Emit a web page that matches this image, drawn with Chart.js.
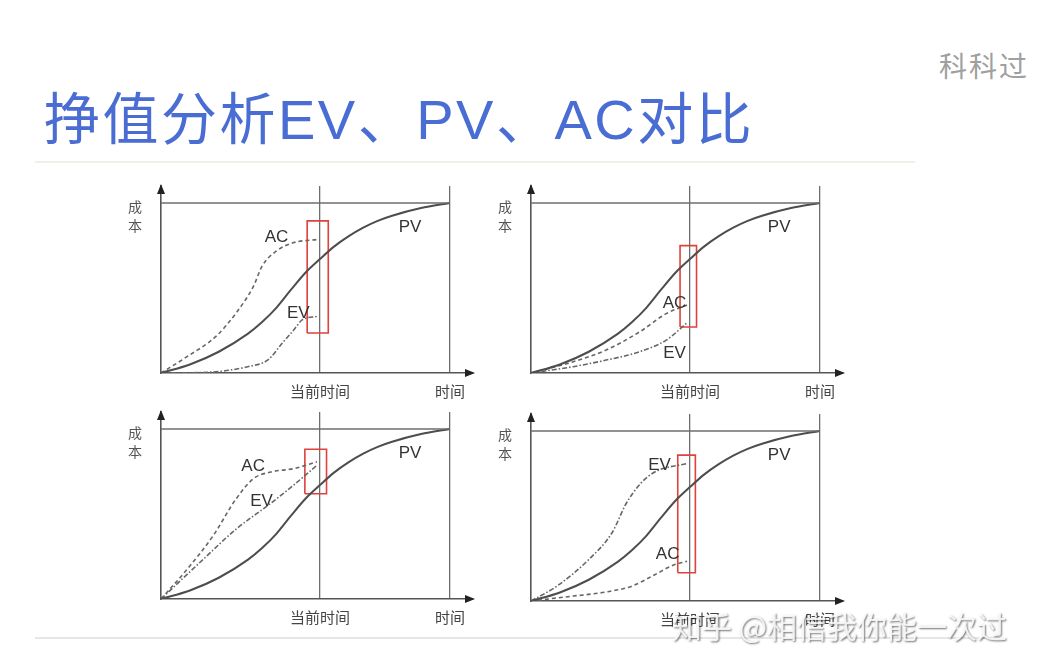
<!DOCTYPE html>
<html lang="zh">
<head>
<meta charset="UTF-8">
<title>挣值分析EV、PV、AC对比</title>
<style>
  body { margin: 0; background: #fff; }
  #page { position: relative; width: 1059px; height: 672px; overflow: hidden; background: #fff;
    font-family: "Liberation Sans", "Noto Sans CJK SC", sans-serif; }
  #title { position: absolute; left: 44px; top: 74px; font-size: 56px; letter-spacing: 2.5px;
    color: #4a6dd4; white-space: nowrap; }
  #brand { position: absolute; left: 939px; top: 45px; font-size: 28px; letter-spacing: 2px; color: #a0a0a0;
    font-family: "Noto Sans CJK SC", sans-serif; }
  .rule { position: absolute; height: 2px; }
  canvas { position: absolute; }
  #mark { position: absolute; left: 672px; top: 603px; font-size: 30px; white-space: nowrap;
    color: rgba(255,255,255,0.85); text-shadow: 1px 1px 2px rgba(0,0,0,0.55);
    font-family: "Noto Sans CJK SC", sans-serif; }
</style>
</head>
<body>
<div id="page">
  <div id="brand">科科过</div>
  <div id="title">挣值分析EV、PV、AC对比</div>
  <div class="rule" style="left:35px;top:161px;width:880px;background:#f1efe8"></div>
  <div class="rule" style="left:35px;top:637px;width:965px;background:#e6e6e6"></div>
  <canvas id="c1" width="380" height="230" style="left:100px;top:180px"></canvas>
  <canvas id="c2" width="380" height="230" style="left:470px;top:180px"></canvas>
  <canvas id="c3" width="380" height="230" style="left:100px;top:406px"></canvas>
  <canvas id="c4" width="380" height="230" style="left:470px;top:408px"></canvas>
  <div id="mark">知乎 @相信我你能一次过</div>
</div>
<script src="https://cdn.jsdelivr.net/npm/chart.js@4.4.1/dist/chart.umd.min.js"></script>
<script>
  // 时间轴：0 = 开始，55 = 当前时间，100 = 完工
  const tickTime = [55, 100]
  const tickTimeLabels = ['当前时间', '时间']
  const tickCost = [92]
  const tickCostLabels = [['成', '本']]

  // PV 计划值（四张图相同）
  const pvX = [0, 10, 20, 30, 35, 40, 45, 50, 55, 60, 65, 70, 75, 80, 90, 100]
  const pvY = [0, 5, 12.5, 23, 30, 38.5, 49, 59, 67, 74.5, 80.5, 85.5, 89.5, 92.5, 97, 100]

  // 图1：AC 高、EV 低
  const ac1X = [0, 9, 19, 26, 32, 35, 40, 46, 54]
  const ac1Y = [0, 9.6, 21.5, 35.3, 51, 62.9, 71.8, 76.7, 78.5]
  const ev1X = [0, 17, 30, 37, 42, 46, 49, 54]
  const ev1Y = [0, 0.5, 3.7, 7.7, 17.6, 25.4, 31.4, 33.3]

  // 图2：AC、EV 都低于 PV
  const ac2X = [0, 14.6, 26, 37.6, 46.8, 54]
  const ac2Y = [0, 6.6, 13.5, 24.2, 34.9, 40]
  const ev2X = [0, 14.6, 26, 37.6, 46.8, 54]
  const ev2Y = [0, 3.7, 7.6, 12.5, 19.3, 29.5]

  // 图3：AC、EV 都高于 PV
  const ac3X = [0, 9, 18, 26, 32, 38, 46, 54]
  const ac3Y = [0, 17.4, 37.1, 58.9, 70.8, 74.7, 76.7, 80.7]
  const ev3X = [0, 14.6, 26, 37.7, 45.8, 54]
  const ev3Y = [0, 23.3, 41.1, 55.9, 66.8, 78.7]

  // 图4：EV 高、AC 低
  const ev4X = [0, 9, 20, 28, 33, 38, 43, 54]
  const ev4Y = [0, 8.8, 24.4, 40, 57.5, 69.2, 76, 80.9]
  const ac4X = [0, 14.6, 26, 35, 43, 49, 54]
  const ac4Y = [0, 2.9, 5.3, 8.8, 15.6, 20.9, 23.4]

  // 红框：当前时间附近的 [x起, x止, y起, y止]
  const box1 = [50.6, 57.9, 23.5, 89.5]
  const box2 = [51.6, 57.3, 27.1, 74.9]
  const box3 = [49.8, 57.3, 61.9, 88.1]
  const box4 = [50.8, 56.9, 16.6, 85.8]

  // 曲线标注 [文字, x, y]
  const labels1 = [['AC', 40, 79.7], ['EV', 47.5, 35.3], ['PV', 86.2, 85.6]]
  const labels2 = [['AC', 49.7, 40.8], ['EV', 49.7, 11.5], ['PV', 85.9, 85.6]]
  const labels3 = [['AC', 31.9, 77.9], ['EV', 34.8, 57.3], ['PV', 86.2, 85.6]]
  const labels4 = [['EV', 44.5, 80], ['AC', 47.3, 27.3], ['PV', 85.9, 85.8]]

  const pts = (xs, ys) => xs.map((x, i) => ({ x, y: ys[i] }))
  const rect = b => [
    { x: b[0], y: b[2] }, { x: b[1], y: b[2] }, { x: b[1], y: b[3] },
    { x: b[0], y: b[3] }, { x: b[0], y: b[2] }
  ]

  // 坐标轴箭头和曲线文字
  const extras = {
    id: 'extras',
    afterDatasetsDraw(chart, args, opts) {
      const { ctx, scales: { x, y } } = chart
      ctx.save()
      ctx.fillStyle = '#222'
      ctx.beginPath()
      ctx.moveTo(x.right + 2, y.bottom)
      ctx.lineTo(x.right - 8, y.bottom - 4)
      ctx.lineTo(x.right - 8, y.bottom + 4)
      ctx.closePath()
      ctx.fill()
      ctx.beginPath()
      ctx.moveTo(x.left, y.top - 2)
      ctx.lineTo(x.left - 4, y.top + 8)
      ctx.lineTo(x.left + 4, y.top + 8)
      ctx.closePath()
      ctx.fill()
      ctx.fillStyle = '#333'
      ctx.font = '17px "Liberation Sans", Arial, sans-serif'
      ctx.textAlign = 'center'
      ctx.textBaseline = 'middle'
      for (const [t, vx, vy] of opts.labels) {
        ctx.fillText(t, x.getPixelForValue(vx), y.getPixelForValue(vy))
      }
      ctx.restore()
    }
  }

  // 去掉刻度文字带来的额外边距，让绘图区位置固定
  function noPad(s) {
    s.paddingTop = 0
    s.paddingBottom = 0
    s.paddingLeft = 0
    s.paddingRight = 0
  }

  function curve(data, dash, width, color) {
    return {
      data,
      borderColor: color,
      borderWidth: width,
      borderDash: dash,
      pointRadius: 0,
      fill: false,
      cubicInterpolationMode: 'monotone'
    }
  }

  function panel(id, acX, acY, evX, evY, box, labels) {
    const ctx = document.getElementById(id).getContext('2d')
    new Chart(ctx, {
      type: 'line',
      data: {
        datasets: [
          // 顶部预算线
          { data: [{ x: 0, y: 100 }, { x: 100, y: 100 }], borderColor: '#6e6e6e', borderWidth: 1.3, pointRadius: 0, tension: 0 },
          curve(pts(pvX, pvY), [], 2, '#4d4d4d'),
          curve(pts(acX, acY), [4, 3], 1.6, '#666'),
          curve(pts(evX, evY), [5, 2, 1.5, 2], 1.6, '#666'),
          { data: rect(box), borderColor: '#e0413a', borderWidth: 1.6, pointRadius: 0, tension: 0 }
        ]
      },
      options: {
        responsive: false,
        animation: false,
        layout: { padding: { top: 6, right: 7, left: 0, bottom: 0 } },
        plugins: { legend: { display: false }, tooltip: { enabled: false }, extras: { labels } },
        scales: {
          x: {
            type: 'linear', min: 0, max: 108,
            afterFit(s) { s.height = 37; noPad(s) },
            afterBuildTicks(s) { s.ticks = tickTime.map(v => ({ value: v })) },
            ticks: {
              padding: 9, color: '#444', maxRotation: 0, autoSkip: false,
              font: { family: '"Noto Sans CJK SC", sans-serif', size: 15 },
              callback: (v, i) => tickTimeLabels[i]
            },
            grid: { color: '#6e6e6e', lineWidth: 1.3, drawTicks: false },
            border: { color: '#555', width: 1.6 }
          },
          y: {
            min: 0, max: 110,
            afterFit(s) { s.width = 61; noPad(s) },
            afterBuildTicks(s) { s.ticks = tickCost.map(v => ({ value: v })) },
            ticks: {
              padding: 19, color: '#555', autoSkip: false,
              font: { family: '"Noto Sans CJK SC", sans-serif', size: 14, lineHeight: 1.35 },
              callback: (v, i) => tickCostLabels[i]
            },
            grid: { display: false, drawTicks: false },
            border: { color: '#555', width: 1.6 }
          }
        }
      },
      plugins: [extras]
    })
  }

  panel('c1', ac1X, ac1Y, ev1X, ev1Y, box1, labels1)
  panel('c2', ac2X, ac2Y, ev2X, ev2Y, box2, labels2)
  panel('c3', ac3X, ac3Y, ev3X, ev3Y, box3, labels3)
  panel('c4', ac4X, ac4Y, ev4X, ev4Y, box4, labels4)
</script>
</body>
</html>
